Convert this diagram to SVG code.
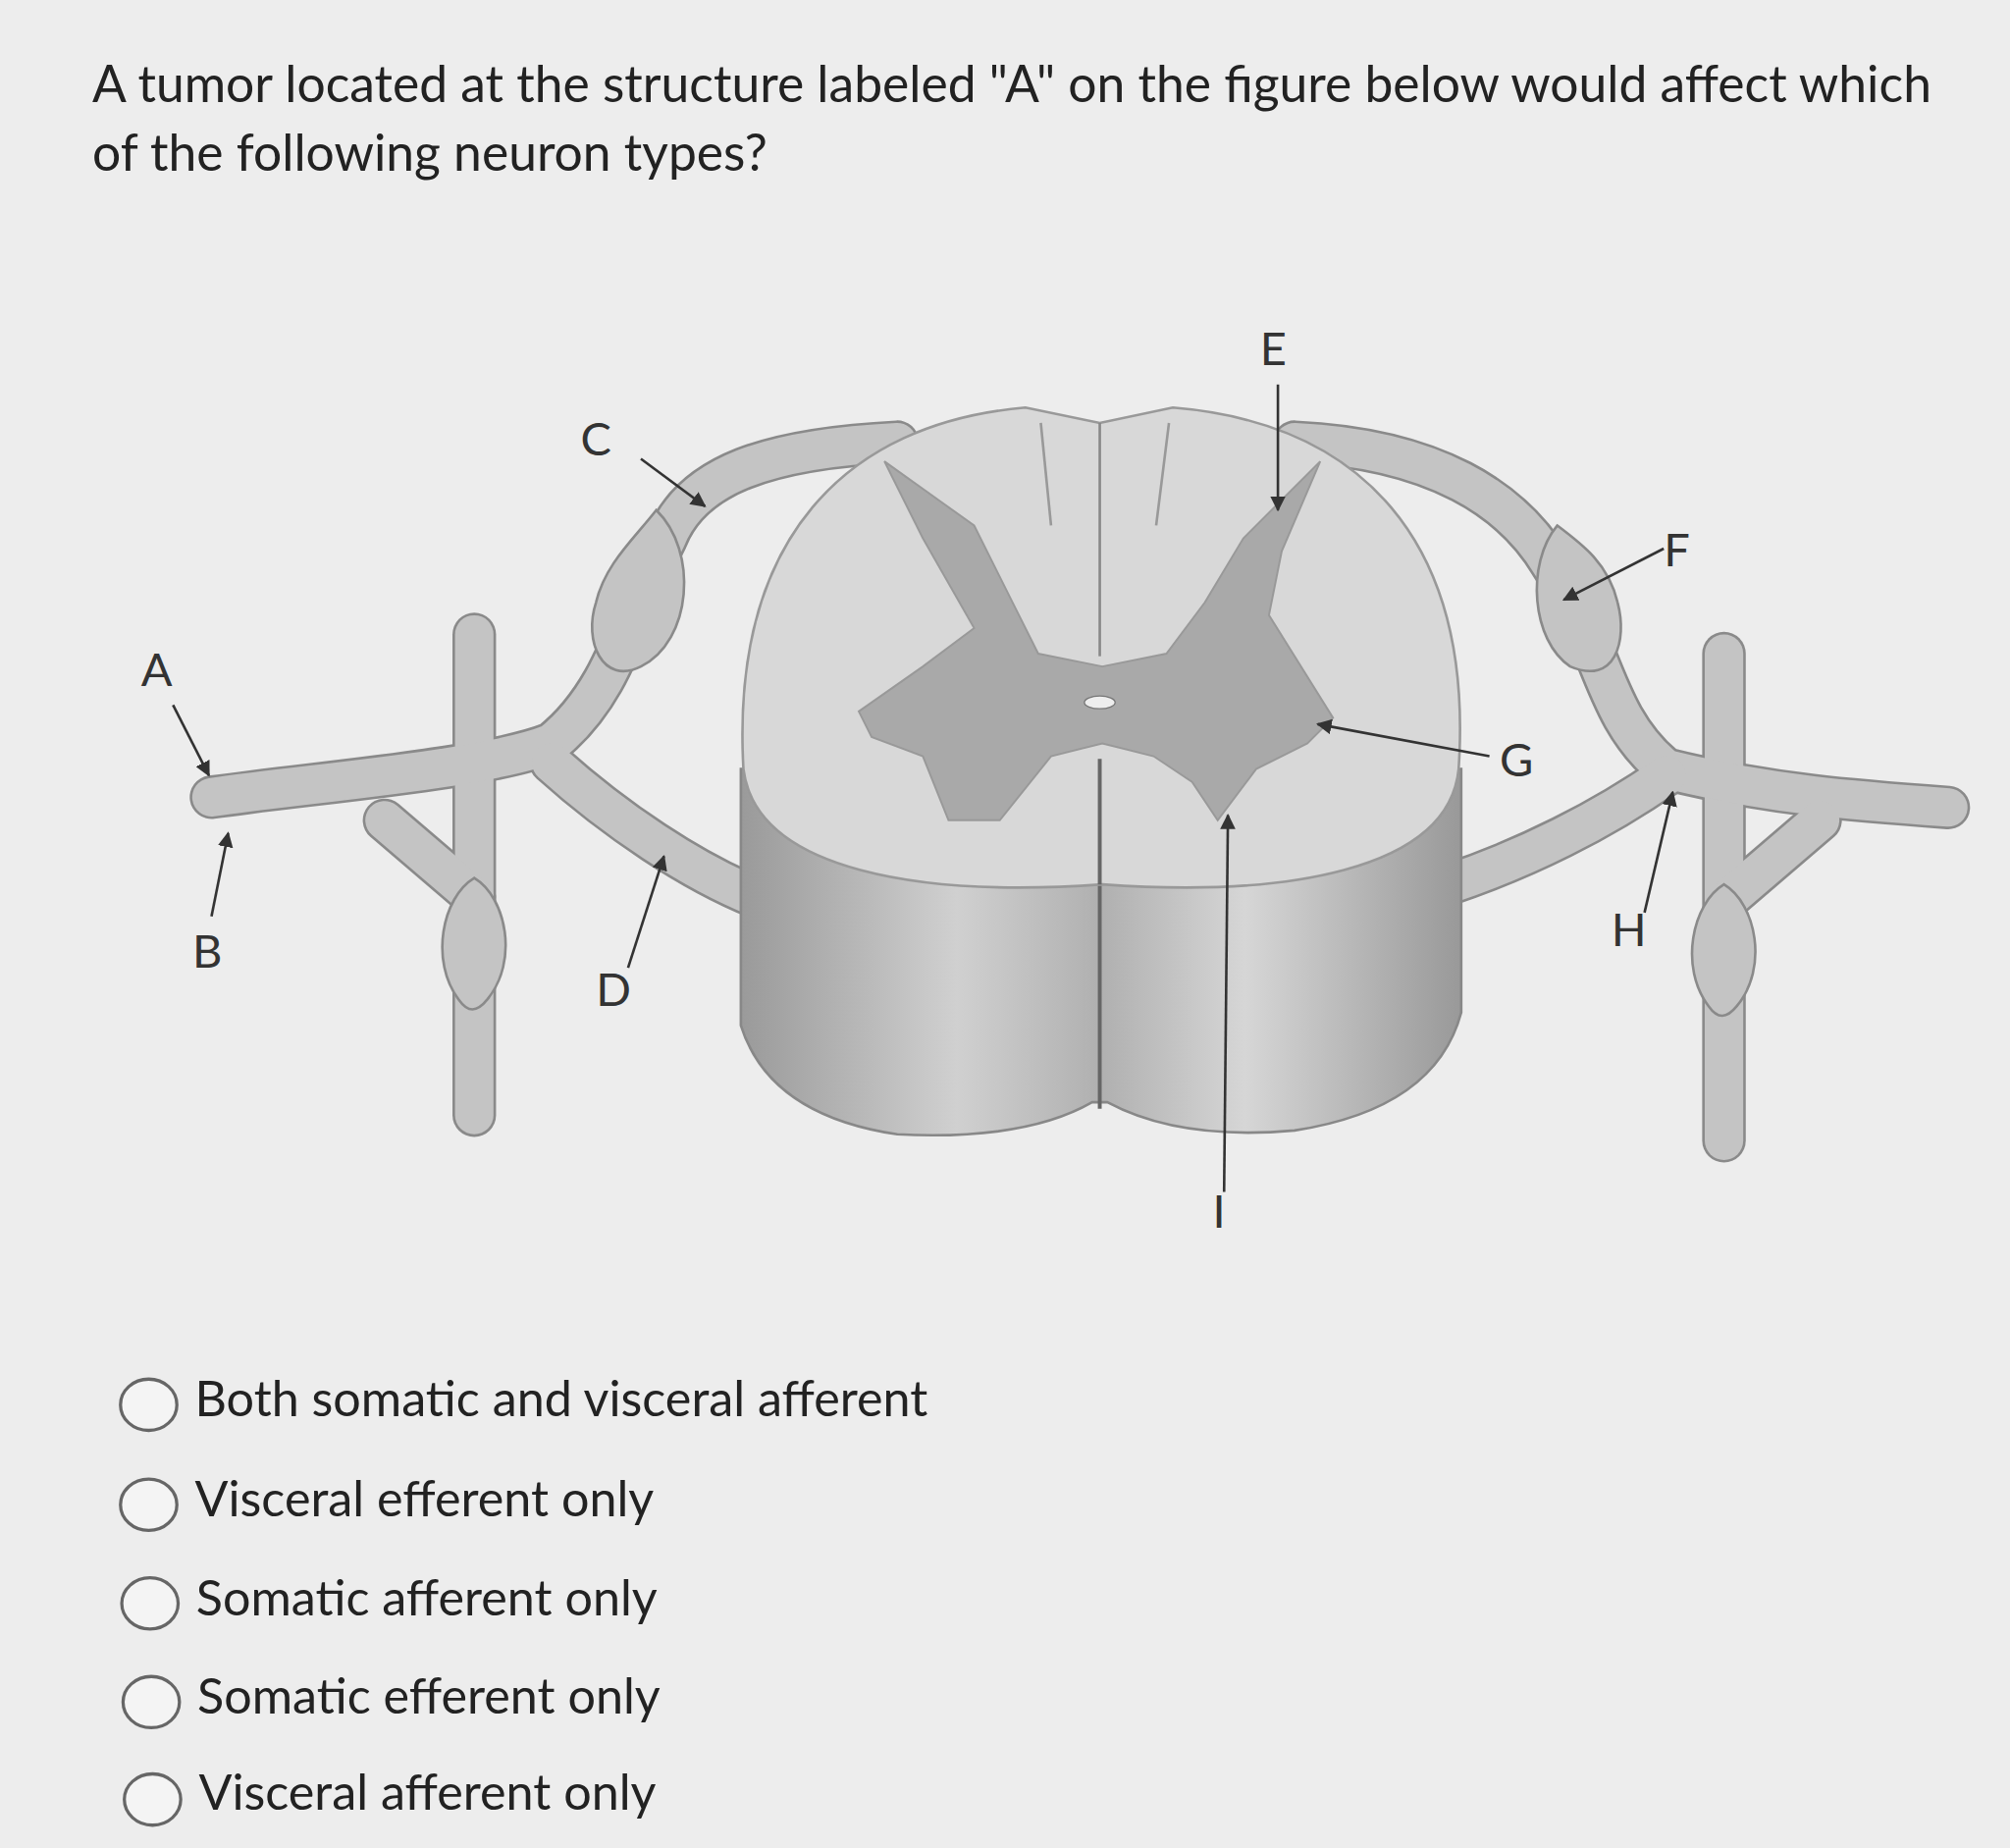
<svg xmlns="http://www.w3.org/2000/svg" width="2048" height="1883" viewBox="0 0 2048 1883">
<defs>
<style>
.t{font-family:"Lato","Liberation Sans",sans-serif;fill:#222}
.lbl{font-family:"Lato","Liberation Sans",sans-serif;font-size:36px;fill:#333}
.nvo{fill:none;stroke:#8a8a8a;stroke-linecap:round;stroke-linejoin:round}
.nvi{fill:none;stroke:#c4c4c4;stroke-linecap:round;stroke-linejoin:round}
.arr{stroke:#333;stroke-width:2;fill:none;marker-end:url(#ah)}
.opt{fill:#f4f4f4;stroke:#666;stroke-width:2.5}
.gan{fill:#c4c4c4;stroke:#8a8a8a;stroke-width:2}
</style>
<marker id="ah" viewBox="0 0 10 10" refX="9" refY="5" markerWidth="6" markerHeight="6" orient="auto"><path d="M0,0 L10,5 L0,10 Z" fill="#333"/></marker>
<linearGradient id="cyl" x1="0" x2="1" y1="0" y2="0">
<stop offset="0" stop-color="#9a9a9a"/><stop offset="0.3" stop-color="#d0d0d0"/><stop offset="0.5" stop-color="#b0b0b0"/><stop offset="0.7" stop-color="#d6d6d6"/><stop offset="1" stop-color="#999"/>
</linearGradient>
</defs>
<rect width="2048" height="1883" fill="#ededed"/>
<g transform="scale(1.306)">
<text class="t" x="72" y="80" font-size="39.5">A tumor located at the structure labeled "A" on the figure below would affect which</text>
<text class="t" x="72" y="133" font-size="39.5">of the following neuron types?</text>

<g id="nerves">
<g class="nvo" stroke-width="34">
<path d="M370,495 L370,870"/><path d="M1345,510 L1345,890"/>
<path d="M700,345 C600,350 540,370 520,420 C490,480 480,540 430,580 C380,600 250,610 165,622"/>
<path d="M590,700 C540,680 480,640 430,595"/>
<path d="M1010,345 C1120,350 1180,390 1210,440 C1250,500 1250,560 1300,600 C1380,620 1450,625 1520,630"/>
<path d="M1130,690 C1190,670 1250,640 1300,605"/>
<path d="M300,640 L370,700"/><path d="M1420,640 L1350,700"/>
</g>
<g class="nvi" stroke-width="30">
<path d="M370,495 L370,870"/><path d="M1345,510 L1345,890"/>
<path d="M700,345 C600,350 540,370 520,420 C490,480 480,540 430,580 C380,600 250,610 165,622"/>
<path d="M590,700 C540,680 480,640 430,595"/>
<path d="M1010,345 C1120,350 1180,390 1210,440 C1250,500 1250,560 1300,600 C1380,620 1450,625 1520,630"/>
<path d="M1130,690 C1190,670 1250,640 1300,605"/>
<path d="M300,640 L370,700"/><path d="M1420,640 L1350,700"/>
</g>
<path class="gan" d="M512,398 C545,430 540,500 500,520 C470,535 455,500 465,470 C472,440 495,420 512,398 Z"/>
<path class="gan" d="M1215,410 C1190,440 1195,500 1225,520 C1260,535 1270,500 1262,470 C1255,440 1235,425 1215,410 Z"/>
<path class="gan" d="M370,685 C395,700 405,750 380,780 C372,790 365,790 358,780 C335,750 345,700 370,685 Z"/>
<path class="gan" d="M1345,690 C1370,705 1380,755 1355,785 C1347,795 1340,795 1333,785 C1310,755 1320,705 1345,690 Z"/>
</g>

<g id="cord">
<path d="M578,600 L578,800 Q600,870 700,885 Q800,890 852,860 L864,860 Q920,890 1010,882 Q1120,865 1140,790 L1140,600 Z" fill="url(#cyl)" stroke="#888" stroke-width="2"/>
<line x1="858" y1="600" x2="858" y2="865" stroke="#666" stroke-width="3"/>
<path d="M580,600 C570,420 660,330 800,318 L858,330 L915,318 C1060,330 1150,420 1138,600 C1130,680 1000,700 860,690 C720,700 590,680 580,600 Z" fill="#d8d8d8" stroke="#999" stroke-width="2"/>
<path d="M690,360 L760,410 L790,470 L810,510 L860,520 L910,510 L940,470 L970,420 L1030,360 L1000,430 L990,480 L1040,560 L1020,580 L980,600 L950,640 L930,610 L900,590 L860,580 L820,590 L780,640 L740,640 L720,590 L680,575 L670,555 L720,520 L760,490 L720,420 Z" fill="#a9a9a9" stroke="#999" stroke-width="1.5"/>
<ellipse cx="858" cy="548" rx="12" ry="5" fill="#eee" stroke="#777"/>
<line x1="858" y1="330" x2="858" y2="512" stroke="#888" stroke-width="2"/>
<line x1="858" y1="592" x2="858" y2="690" stroke="#666" stroke-width="3"/>
<line x1="812" y1="330" x2="820" y2="410" stroke="#999" stroke-width="2"/>
<line x1="912" y1="330" x2="902" y2="410" stroke="#999" stroke-width="2"/>
</g>

<g id="connectors">
<line class="arr" x1="135" y1="550" x2="163" y2="605"/>
<line class="arr" x1="165" y1="715" x2="178" y2="650"/>
<line class="arr" x1="500" y1="358" x2="550" y2="395"/>
<line class="arr" x1="490" y1="755" x2="518" y2="668"/>
<line class="arr" x1="997" y1="300" x2="997" y2="398"/>
<line class="arr" x1="1298" y1="428" x2="1220" y2="468"/>
<line class="arr" x1="1162" y1="590" x2="1028" y2="565"/>
<line class="arr" x1="1283" y1="712" x2="1305" y2="618"/>
<line class="arr" x1="955" y1="930" x2="958" y2="636"/>
</g>

<g id="labels">
<text class="lbl" x="983" y="285">E</text>
<text class="lbl" x="453" y="355">C</text>
<text class="lbl" x="1298" y="442">F</text>
<text class="lbl" x="110" y="535">A</text>
<text class="lbl" x="1170" y="606">G</text>
<text class="lbl" x="150" y="755">B</text>
<text class="lbl" x="1257" y="738">H</text>
<text class="lbl" x="465" y="785">D</text>
<text class="lbl" x="946" y="958">I</text>
</g>

<g id="options">
<ellipse class="opt" cx="116" cy="1096" rx="22" ry="20"/>
<ellipse class="opt" cx="116" cy="1174" rx="22" ry="20"/>
<ellipse class="opt" cx="117" cy="1251" rx="22" ry="20"/>
<ellipse class="opt" cx="118" cy="1328" rx="22" ry="20"/>
<ellipse class="opt" cx="119" cy="1404" rx="22" ry="20"/>
<text class="t" x="152" y="1105" font-size="38.5">Both somatic and visceral afferent</text>
<text class="t" x="152" y="1183" font-size="38.5">Visceral efferent only</text>
<text class="t" x="153" y="1260" font-size="38.5">Somatic afferent only</text>
<text class="t" x="154" y="1337" font-size="38.5">Somatic efferent only</text>
<text class="t" x="155" y="1412" font-size="38.5">Visceral afferent only</text>
</g>
</g>
</svg>
